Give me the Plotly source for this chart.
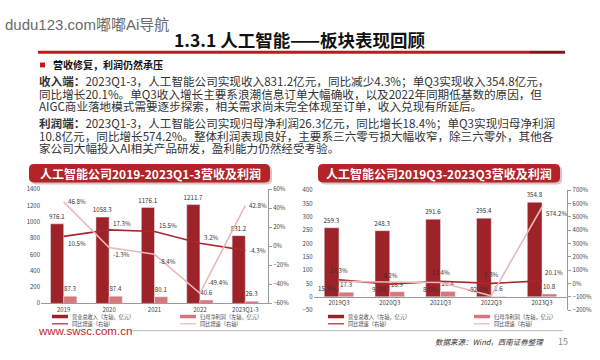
import plotly.graph_objects as go

# ---------------- data ----------------
years = ["2019", "2020", "2021", "2022", "2023Q1-3"]
rev_year = [976.1, 1058.3, 1176.1, 1211.7, 831.2]
profit_year = [87.3, 87.4, 80.1, 40.6, 26.3]
rev_growth_year = [10.5, 17.3, 15.5, 3.2, -4.3]
profit_growth_year = [46.8, -1.3, -8.4, -49.4, 42.8]

quarters = ["2019Q3", "2020Q3", "2021Q3", "2022Q3", "2023Q3"]
rev_q = [259.3, 248.3, 291.6, 295.4, 354.8]
profit_q = [17.3, 18.9, 20.4, 1.6, 10.8]
rev_growth_q = [27.3, -4.2, 17.4, 1.3, 20.1]
profit_growth_q = [15.3, 9.2, 8.0, -92.2, 574.2]

W, H = 600, 360
CJK = "Noto Sans CJK SC"
DARK = "#9E2328"
PINK_BAR = "#D9767A"
DARK_LINE = "#A8282E"
PINK_LINE = "#EBB7B9"


def X(px):
    return px / W


def Y(py):
    return 1 - py / H


fig = go.Figure()
small = dict(family=CJK, size=6, color="#444")
lab = dict(family=CJK, size=6.2, color="#333")

# ---------------- left chart ----------------
fig.add_trace(go.Bar(x=years, y=rev_year, marker_color=DARK, xaxis="x", yaxis="y",
                     text=[f"{v:.1f}" for v in rev_year], textposition="outside",
                     constraintext="none", textfont=lab, cliponaxis=False, showlegend=False))
fig.add_trace(go.Bar(x=years, y=profit_year, marker_color=PINK_BAR, xaxis="x", yaxis="y",
                     text=[f"{v:.1f}" for v in profit_year], textposition="outside",
                     constraintext="none", textfont=lab, cliponaxis=False, showlegend=False))
fig.add_trace(go.Scatter(x=years, y=rev_growth_year, mode="lines", xaxis="x", yaxis="y2",
                         line=dict(color=DARK_LINE, width=1.6), cliponaxis=False, showlegend=False))
fig.add_trace(go.Scatter(x=years, y=profit_growth_year, mode="lines", xaxis="x", yaxis="y2",
                         line=dict(color=PINK_LINE, width=1.6), cliponaxis=False, showlegend=False))

# ---------------- right chart ----------------
fig.add_trace(go.Bar(x=quarters, y=rev_q, marker_color=DARK, xaxis="x3", yaxis="y3",
                     text=[f"{v:.1f}" for v in rev_q], textposition="outside",
                     constraintext="none", textfont=lab, cliponaxis=False, showlegend=False))
fig.add_trace(go.Bar(x=quarters, y=profit_q, marker_color=PINK_BAR, xaxis="x3", yaxis="y3",
                     text=[f"{v:.1f}" for v in profit_q], textposition="outside",
                     constraintext="none", textfont=lab, cliponaxis=False, showlegend=False))
fig.add_trace(go.Scatter(x=quarters, y=rev_growth_q, mode="lines", xaxis="x3", yaxis="y4",
                         line=dict(color=DARK_LINE, width=1.6), cliponaxis=False, showlegend=False))
fig.add_trace(go.Scatter(x=quarters, y=profit_growth_q, mode="lines", xaxis="x3", yaxis="y4",
                         line=dict(color=PINK_LINE, width=1.6), cliponaxis=False, showlegend=False))

axis_common = dict(showgrid=False, zeroline=False, tickfont=small, fixedrange=True)

fig.update_layout(
    width=W, height=H, margin=dict(l=0, r=0, t=0, b=0),
    paper_bgcolor="white", plot_bgcolor="rgba(0,0,0,0)",
    barmode="group", bargap=0.42, bargroupgap=0,
    font=dict(family=CJK),
    xaxis=dict(type="category", range=[-0.5, len(years) - 0.5], autorange=False,
               domain=[X(41), X(268)], anchor="y", showline=True,
               linecolor="#9a9a9a", linewidth=1, ticks="", **axis_common),
    yaxis=dict(domain=[Y(306), Y(189)], range=[0, 1400], dtick=200, anchor="x",
               showline=False, ticks="", **axis_common),
    yaxis2=dict(overlaying="y", side="right", anchor="x", range=[-60, 60], dtick=20,
                ticksuffix="%", showline=True, linecolor="#9a9a9a", ticks="outside",
                ticklen=3, tickcolor="#9a9a9a", **axis_common),
    xaxis3=dict(type="category", range=[-0.5, len(quarters) - 0.5], autorange=False,
                domain=[X(313.6), X(567.4)], anchor="free", position=Y(299),
                showline=True, linecolor="#9a9a9a", linewidth=1, ticks="", **axis_common),
    yaxis3=dict(domain=[Y(313), Y(190)], range=[-50, 400], dtick=50, anchor="x3",
                showline=False, ticks="", **axis_common),
    yaxis4=dict(overlaying="y3", side="right", anchor="x3", range=[-200, 700], dtick=100,
                ticksuffix="%", showline=True, linecolor="#9a9a9a", ticks="outside",
                ticklen=3, tickcolor="#9a9a9a", **axis_common),
)

shapes = []
annotations = []


def point_labels(vals, xref, yref, placement):
    # x given as category index; placement: (xanchor, xshift, yshift) per point
    for i, (v, (xa, xs, ys)) in enumerate(zip(vals, placement)):
        annotations.append(dict(x=i, y=v, xref=xref, yref=yref, text=f"{v:.1f}%",
                                showarrow=False, xanchor=xa, yanchor="middle",
                                xshift=xs, yshift=ys, borderpad=0, font=lab))


point_labels(rev_growth_year, "x", "y2",
             [("left", 3, -7), ("left", 3, 6), ("left", 3, 6), ("left", 3, 6), ("left", 3, 0)])
point_labels(profit_growth_year, "x", "y2",
             [("left", 3, 0), ("left", 3, -7), ("left", 3, -7), ("left", 7, 11), ("left", 3, 0)])
point_labels(rev_growth_q, "x3", "y4",
             [("center", 0, 9), ("center", 0, 9), ("center", 0, 9), ("center", 0, 9), ("left", 2, 8)])
point_labels(profit_growth_q, "x3", "y4",
             [("right", -2, -7), ("right", -2, -7), ("right", -2, -7), ("right", -2, 6), ("left", 3, -6)])


def rounded(x0, y0, x1, y1, r, color):
    rx, ry = r / W, r / H
    a0, a1 = X(x0), X(x1)
    b1, b0 = Y(y0), Y(y1)  # b1 top
    path = (f"M {a0+rx},{b1} L {a1-rx},{b1} Q {a1},{b1} {a1},{b1-ry} "
            f"L {a1},{b0+ry} Q {a1},{b0} {a1-rx},{b0} L {a0+rx},{b0} "
            f"Q {a0},{b0} {a0},{b0+ry} L {a0},{b1-ry} Q {a0},{b1} {a0+rx},{b1} Z")
    return dict(type="path", xref="paper", yref="paper", path=path,
                fillcolor=color, line=dict(width=0), layer="below")


def text(px, py, s, size, color="#333", anchor="left", bold=False, family=CJK, italic=False):
    if bold:
        s = f"<b>{s}</b>"
    if italic:
        s = f"<i>{s}</i>"
    annotations.append(dict(x=X(px), y=Y(py), xref="paper", yref="paper", text=s,
                            showarrow=False, xanchor=anchor, yanchor="middle", borderpad=0,
                            font=dict(family=family, size=size, color=color)))


def hline(x0, x1, py, color, width):
    shapes.append(dict(type="line", xref="paper", yref="paper", x0=X(x0), x1=X(x1),
                       y0=Y(py), y1=Y(py), line=dict(color=color, width=width)))


# watermark and title
text(4, 20, "dudu123.com嘟嘟Ai导航", 15, color="#6a6a6a",
     family="Liberation Sans, Noto Sans CJK SC")
text(300, 35, "1.3.1 人工智能——板块表现回顾", 17.5, color="#111", anchor="center", bold=True)
# title rule
shapes.append(dict(type="rect", xref="paper", yref="paper", x0=X(38), x1=X(530),
                   y0=Y(50), y1=Y(47), fillcolor="#C8161E", line=dict(width=0)))
shapes.append(dict(type="rect", xref="paper", yref="paper", x0=X(530), x1=X(565),
                   y0=Y(50), y1=Y(47), fillcolor="#7E1A1E", line=dict(width=0)))

# bullet
shapes.append(dict(type="rect", xref="paper", yref="paper", x0=X(40), x1=X(45),
                   y0=Y(64), y1=Y(59), fillcolor="#C8161E", line=dict(width=0)))
text(52, 61.5, "营收修复，利润仍然承压", 10, color="#111", bold=True)

body = [
    (78, "<b>收入端：</b>2023Q1-3，人工智能公司实现收入831.2亿元，同比减少4.3%；单Q3实现收入354.8亿元，"),
    (91, "同比增长20.1%。单Q3收入增长主要系浪潮信息订单大幅确收，以及2022年同期低基数的原因，但"),
    (104, "AIGC商业落地模式需要逐步探索，相关需求尚未完全体现至订单，收入兑现有所延后。"),
    (121, "<b>利润端：</b>2023Q1-3，人工智能公司实现归母净利润26.3亿元，同比增长18.4%；单Q3实现归母净利润"),
    (134, "10.8亿元，同比增长574.2%。整体利润表现良好，主要系三六零亏损大幅收窄，除三六零外，其他各"),
    (147, "家公司大幅投入AI相关产品研发，盈利能力仍然经受考验。"),
]
for py, s in body:
    text(38, py, s, 11.6, color="#333")

# banners
shapes.append(rounded(31, 165, 272, 184, 5, "#D9C4C4"))
shapes.append(rounded(29, 163, 270, 182, 5, "#B3242A"))
text(150, 172.5, "人工智能公司2019-2023Q1-3营收及利润", 12, color="white", anchor="center", bold=True)
shapes.append(rounded(320, 165, 562, 184, 5, "#D9C4C4"))
shapes.append(rounded(318, 163, 560, 182, 5, "#B3242A"))
text(439, 172.5, "人工智能公司2019Q3-2023Q3营收及利润", 12, color="white", anchor="center", bold=True)

# manual legends
leg = dict(size=5.2, color="#444")


def legend_item(x0, py, color, width, label):
    hline(x0, x0 + 16, py, color, width)
    text(x0 + 19, py, label, **leg)


legend_item(52, 319.5, DARK, 3.5, "营业总收入（左轴，亿元）")
legend_item(180, 319.5, PINK_BAR, 3.5, "归母净利润（左轴，亿元）")
legend_item(52, 327, DARK_LINE, 1.2, "同比增速（右轴）")
legend_item(180, 327, PINK_LINE, 1.2, "同比增速（右轴）")

legend_item(328, 319.5, DARK, 3.5, "营业总收入（左轴，亿元）")
legend_item(474, 319.5, PINK_BAR, 3.5, "归母净利润（左轴，亿元）")
legend_item(328, 327, DARK_LINE, 1.2, "同比增速（右轴）")
legend_item(474, 327, PINK_LINE, 1.2, "同比增速（右轴）")

# footer
text(37, 334, "www.swsc.com.cn", 11.5, color="#C0262D", family="Liberation Sans")
hline(130, 563, 334, "#a8a8a8", 0.8)
text(545, 345, "数据来源：Wind，西南证券整理", 7.5, color="#333", anchor="right", italic=True)
text(557, 345, "15", 9, color="#888")

fig.update_layout(shapes=shapes, annotations=annotations)
fig.write_html("out.html", config={"displayModeBar": False},
               post_script="document.body.style.margin='0';document.body.style.overflow='hidden';")
